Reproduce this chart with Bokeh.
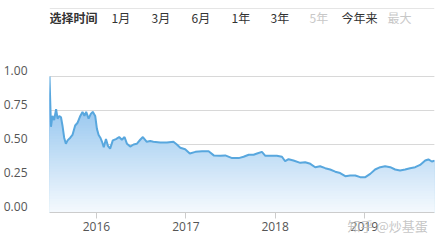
import numpy as np
import pandas as pd
from bokeh.plotting import figure
from bokeh.models import Range1d, Label, FixedTicker, LinearAxis
from bokeh.embed import file_html
from bokeh.resources import INLINE

dates = [
    "2015-06-23", "2015-06-29", "2015-07-05", "2015-07-12", "2015-07-20", "2015-07-26",
    "2015-08-02", "2015-08-09", "2015-08-15", "2015-08-22", "2015-08-29", "2015-09-05",
    "2015-09-16", "2015-09-25", "2015-10-06", "2015-10-16", "2015-10-27", "2015-11-05",
    "2015-11-13", "2015-11-20", "2015-11-30", "2015-12-09", "2015-12-17", "2015-12-27",
    "2016-01-03", "2016-01-10", "2016-01-17", "2016-01-24", "2016-01-31", "2016-02-09",
    "2016-02-17", "2016-02-26", "2016-03-08", "2016-03-21", "2016-04-03", "2016-04-14",
    "2016-04-25", "2016-05-05", "2016-05-18", "2016-06-01", "2016-06-14", "2016-06-28",
    "2016-07-09", "2016-07-25", "2016-08-08", "2016-08-21", "2016-09-18", "2016-10-15",
    "2016-11-11", "2016-11-25", "2016-12-09", "2016-12-29", "2017-01-17", "2017-02-09",
    "2017-03-08", "2017-04-04", "2017-04-25", "2017-05-22", "2017-06-11", "2017-07-09",
    "2017-08-05", "2017-08-25", "2017-09-15", "2017-10-05", "2017-10-19", "2017-11-08",
    "2017-11-22", "2017-12-12", "2018-01-08", "2018-01-29", "2018-02-11", "2018-02-25",
    "2018-03-17", "2018-04-14", "2018-05-04", "2018-05-25", "2018-06-14", "2018-07-04",
    "2018-07-25", "2018-08-14", "2018-09-04", "2018-09-24", "2018-10-15", "2018-11-04",
    "2018-11-25", "2018-12-15", "2019-01-05", "2019-01-25", "2019-02-14", "2019-03-07",
    "2019-03-27", "2019-04-17", "2019-05-07", "2019-05-27", "2019-06-17", "2019-07-07",
    "2019-07-28", "2019-08-17", "2019-09-07", "2019-09-20", "2019-10-04", "2019-10-15",
]
values = [
    1.00, 0.63, 0.71, 0.68, 0.76, 0.69,
    0.71, 0.70, 0.64, 0.55, 0.505, 0.53,
    0.55, 0.57, 0.64, 0.66, 0.71, 0.74,
    0.71, 0.74, 0.69, 0.725, 0.74, 0.71,
    0.615, 0.57, 0.55, 0.52, 0.48, 0.54,
    0.49, 0.47, 0.53, 0.54, 0.555, 0.535,
    0.555, 0.505, 0.485, 0.50, 0.505, 0.535,
    0.555, 0.52, 0.525, 0.52, 0.515, 0.515,
    0.52, 0.50, 0.476, 0.465, 0.434, 0.446,
    0.45, 0.45, 0.42, 0.417, 0.42, 0.40,
    0.40, 0.41, 0.425, 0.425, 0.434, 0.446,
    0.417, 0.417, 0.417, 0.41, 0.377, 0.392,
    0.382, 0.365, 0.37, 0.358, 0.333, 0.34,
    0.326, 0.316, 0.30, 0.29, 0.267, 0.272,
    0.272, 0.26, 0.26, 0.284, 0.316, 0.333,
    0.34, 0.333, 0.316, 0.309, 0.316, 0.326,
    0.333, 0.35, 0.382, 0.39, 0.375, 0.38,
]
y_ticks = [0.0, 0.25, 0.5, 0.75, 1.0]
y_tick_labels = ["0.00", "0.25", "0.50", "0.75", "1.00"]
x_tick_years = ["2016", "2017", "2018", "2019"]
header_items = ["选择时间", "1月", "3月", "6月", "1年", "3年", "5年", "今年来", "最大"]
header_disabled = ["5年", "最大"]
watermark = "知乎 @炒基蛋"

x = pd.to_datetime(dates)
v = np.array(values)

W, H = 441, 245
FL = 49            # frame left (canvas px)
BASE = 212         # canvas y of value 0
PX_PER_UNIT = 136  # pixels per 1.0 of value
y0 = -(H - BASE) / PX_PER_UNIT
y1 = BASE / PX_PER_UNIT
lab_shift = 6 / PX_PER_UNIT

p = figure(width=W, height=H, x_axis_type="datetime", output_backend="svg",
           toolbar_location=None, y_axis_location=None,
           min_border_left=FL, min_border_right=7, min_border_top=0, min_border_bottom=0,
           x_range=Range1d(x[0], x[-1]), y_range=Range1d(y0, y1))
p.outline_line_color = None
p.background_fill_color = "white"
p.border_fill_color = "white"

# gradient-like fill built from horizontal bands
top = np.array([125, 185, 235])
bottom = np.array([246, 250, 254])
levels = np.linspace(1.0, 0.02, 50)
for L in levels:
    c = bottom + (top - bottom) * L
    col = "#%02x%02x%02x" % tuple(int(round(k)) for k in c)
    p.varea(x=x, y1=0, y2=np.minimum(v, L), fill_color=col, fill_alpha=1.0)

p.line(x, v, line_color="#58a7de", line_width=2)

# x axis fixed at value 0
tick_ms = [pd.Timestamp(y + "-01-01").value // 10**6 for y in x_tick_years]
xa = p.xaxis[0]
xa.fixed_location = 0
xa.ticker = FixedTicker(ticks=tick_ms)
xa.major_label_overrides = {t: s for t, s in zip(tick_ms, x_tick_years)}
xa.axis_line_color = "#cccccc"
xa.major_tick_line_color = "#cccccc"
xa.major_tick_out = 6
xa.major_tick_in = 0
xa.minor_tick_line_color = None
xa.major_label_standoff = 3
xa.major_label_text_font = "Open Sans"
xa.major_label_text_font_size = "12px"
xa.major_label_text_color = "#555555"
p.xgrid.grid_line_color = None

# y axis: labels sit slightly above their gridlines, as in the reference
p.extra_y_ranges = {"lab": Range1d(y0 - lab_shift, y1 - lab_shift)}
ya = LinearAxis(y_range_name="lab", ticker=FixedTicker(ticks=y_ticks))
ya.major_label_overrides = {t: s for t, s in zip(y_ticks, y_tick_labels)}
ya.axis_line_color = None
ya.major_tick_line_color = None
ya.minor_tick_line_color = None
ya.major_label_standoff = 16
ya.major_label_text_font = "Open Sans"
ya.major_label_text_font_size = "12px"
ya.major_label_text_color = "#555555"
p.add_layout(ya, "left")

from bokeh.models import Grid
p.add_layout(Grid(dimension=1, ticker=FixedTicker(ticks=y_ticks), grid_line_color="#d8d8d8"))

# header (inside the frame, above the plot area)
hx = [49, 111, 151, 191, 231, 270, 309, 341, 387]
for item, xx in zip(header_items, hx):
    p.add_layout(Label(x=xx - FL, y=H - 17, x_units="screen", y_units="screen", text=item,
                       text_font="Noto Sans CJK SC", text_font_size="12px",
                       text_font_style="bold" if item == "选择时间" else "normal",
                       text_color="#c8c8c8" if item in header_disabled else "#333333",
                       text_baseline="middle", text_align="left"))

p.add_layout(Label(x=347 - FL, y=H - 225, x_units="screen", y_units="screen", text=watermark,
                   text_font="Noto Sans CJK SC", text_font_size="13px",
                   text_color="#c0c0c0", text_alpha=0.9,
                   text_baseline="middle", text_align="left"))

open("out.html", "w").write(file_html(p, INLINE))
